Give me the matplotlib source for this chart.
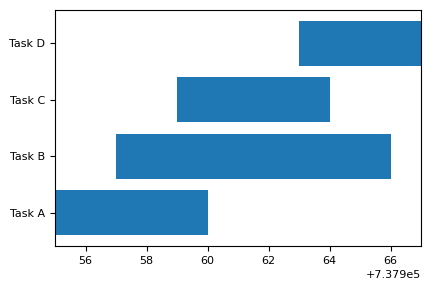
import matplotlib
matplotlib.use("Agg")
from matplotlib import pyplot as plt

tasks = ["Task A", "Task B", "Task C", "Task D"]
start = [737955, 737957, 737959, 737963]
end = [737960, 737966, 737964, 737967]

fig = plt.figure(figsize=(4.33, 2.86), dpi=100)
ax = fig.add_axes([55 / 433, 40 / 286, 366 / 433, 236 / 286])

ax.barh(tasks, [e - s for s, e in zip(start, end)], left=start, color="#1f77b4")
ax.set_xlim(min(start), max(end))
ax.tick_params(labelsize=8)
ax.xaxis.get_offset_text().set_fontsize(8)

fig.savefig("out.png", dpi=100)
